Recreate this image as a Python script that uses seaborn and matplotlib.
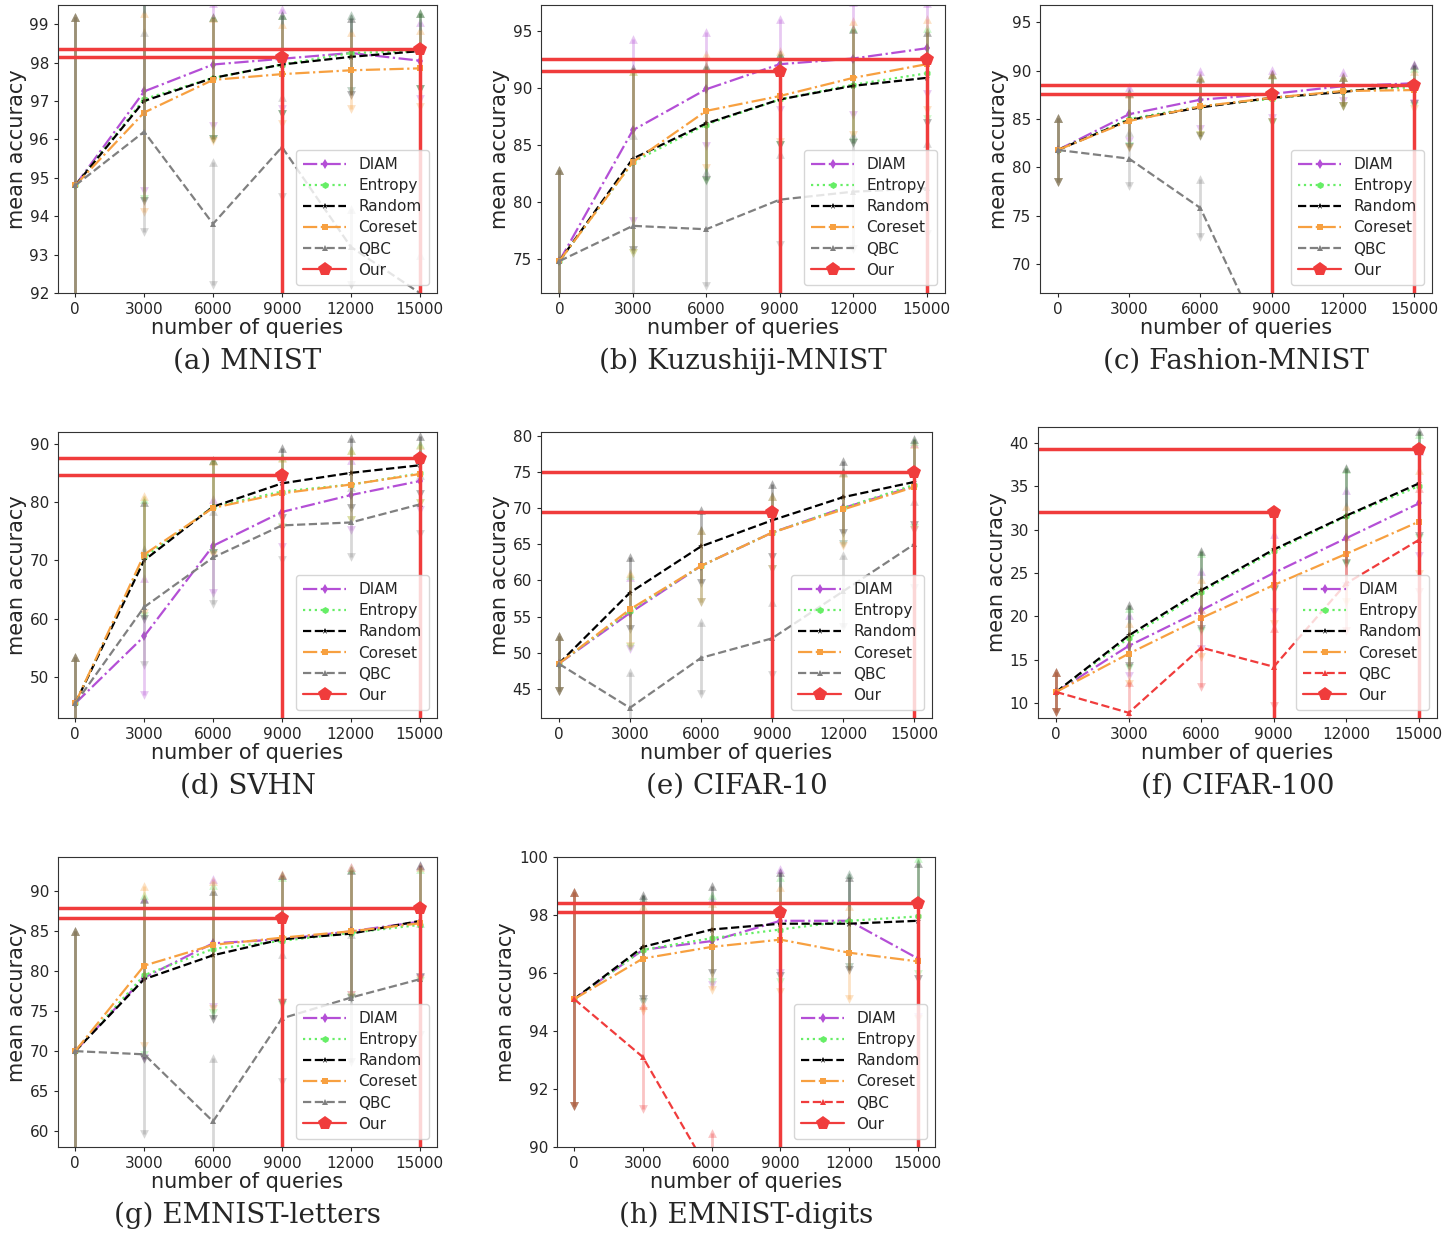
import matplotlib
matplotlib.use('Agg')
import matplotlib.pyplot as plt
import seaborn as sns
import numpy as np

sns.set_style('white')

queries = [0, 3000, 6000, 9000, 12000, 15000]
our_queries = [9000, 15000]
methods = ['DIAM', 'Entropy', 'Random', 'Coreset', 'QBC']

titles = ['(a) MNIST', '(b) Kuzushiji-MNIST', '(c) Fashion-MNIST',
          '(d) SVHN', '(e) CIFAR-10', '(f) CIFAR-100',
          '(g) EMNIST-letters', '(h) EMNIST-digits']

mnist = {
    'DIAM': [94.8, 97.25, 97.95, 98.1, 98.25, 98.05],
    'Entropy': [94.8, 97.05, 97.6, 97.95, 98.25, 98.3],
    'Random': [94.8, 97.0, 97.6, 97.95, 98.15, 98.3],
    'Coreset': [94.8, 96.7, 97.55, 97.7, 97.8, 97.85],
    'QBC': [94.8, 96.2, 93.8, 95.8, 93.2, 92.0],
}
kmnist = {
    'DIAM': [74.8, 86.3, 89.9, 92.1, 92.6, 93.5],
    'Entropy': [74.8, 83.5, 86.8, 89.0, 90.3, 91.3],
    'Random': [74.8, 83.8, 86.9, 89.0, 90.2, 90.9],
    'Coreset': [74.8, 83.5, 88.0, 89.3, 90.9, 92.1],
    'QBC': [74.8, 77.9, 77.6, 80.2, 80.9, 81.2],
}
fmnist = {
    'DIAM': [81.8, 85.5, 87.0, 87.6, 88.4, 88.7],
    'Entropy': [81.8, 85.0, 86.3, 87.1, 87.9, 88.3],
    'Random': [81.8, 84.9, 86.2, 87.2, 87.8, 88.6],
    'Coreset': [81.8, 84.8, 86.3, 87.2, 87.9, 88.0],
    'QBC': [81.8, 80.9, 75.8, 60.0, 58.0, 55.0],
}
svhn = {
    'DIAM': [45.5, 57.0, 72.5, 78.3, 81.2, 83.6],
    'Entropy': [45.5, 70.5, 79.2, 81.8, 83.0, 84.9],
    'Random': [45.5, 70.0, 79.2, 83.2, 85.0, 86.3],
    'Coreset': [45.5, 71.0, 79.0, 81.5, 83.0, 84.8],
    'QBC': [45.5, 62.0, 70.5, 76.0, 76.5, 79.6],
}
cifar10 = {
    'DIAM': [48.5, 55.5, 62.0, 66.6, 70.0, 73.0],
    'Entropy': [48.5, 55.8, 62.0, 66.6, 70.0, 73.2],
    'Random': [48.5, 58.3, 64.7, 68.3, 71.5, 73.6],
    'Coreset': [48.5, 56.0, 62.0, 66.6, 69.8, 72.9],
    'QBC': [48.5, 42.4, 49.3, 52.0, 58.5, 65.0],
}
cifar100 = {
    'DIAM': [11.3, 16.6, 20.7, 25.0, 29.0, 33.0],
    'Entropy': [11.3, 17.5, 22.8, 27.5, 31.5, 35.0],
    'Random': [11.3, 17.8, 23.0, 27.7, 31.6, 35.3],
    'Coreset': [11.3, 15.7, 19.8, 23.6, 27.2, 30.9],
    'QBC': [11.3, 8.9, 16.4, 14.2, 23.8, 28.8],
}
emnist_l = {
    'DIAM': [70.0, 79.2, 83.5, 84.0, 85.0, 86.2],
    'Entropy': [70.0, 79.5, 82.8, 83.8, 84.8, 85.8],
    'Random': [70.0, 79.0, 82.0, 84.0, 84.7, 86.3],
    'Coreset': [70.0, 80.7, 83.3, 84.2, 85.0, 86.0],
    'QBC': [70.0, 69.6, 61.2, 74.1, 76.7, 79.0],
}
emnist_d = {
    'DIAM': [95.1, 96.8, 97.1, 97.8, 97.8, 96.5],
    'Entropy': [95.1, 96.8, 97.2, 97.5, 97.8, 97.95],
    'Random': [95.1, 96.9, 97.5, 97.7, 97.7, 97.8],
    'Coreset': [95.1, 96.5, 96.9, 97.15, 96.7, 96.4],
    'QBC': [95.1, 93.1, 89.0, 88.0, 87.0, 86.0],
}
all_data = [mnist, kmnist, fmnist, svhn, cifar10, cifar100, emnist_l, emnist_d]

our_values = [[98.15, 98.35], [91.5, 92.6], [87.6, 88.5], [84.6, 87.5],
              [69.5, 75.0], [32.0, 39.3], [86.7, 87.9], [98.1, 98.4]]

# rough spread of the error arrows per panel
spreads = [[4.4, 2.6, 1.6, 1.3, 1.0, 1.0],
           [8, 8, 5, 4, 5, 4],
           [3.3, 2.8, 3, 2.5, 1.5, 2],
           [8, 10, 8, 6, 6, 5],
           [3.8, 5, 5, 5, 5, 6],
           [2.3, 3.5, 4.5, 4.5, 5.5, 6],
           [15, 10, 8, 8, 8, 7],
           [3.7, 1.8, 1.5, 1.8, 1.6, 2]]

ylims = [(92, 99.5), (72, 97.3), (67, 96.8), (43, 92), (41, 80.5),
         (8.3, 41.8), (58, 94.3), (90, 100)]
yticks = [np.arange(92, 100, 1), np.arange(75, 96, 5), np.arange(70, 96, 5),
          np.arange(50, 91, 10), np.arange(45, 81, 5), np.arange(10, 41, 5),
          np.arange(60, 91, 5), np.arange(90, 101, 2)]

styles = {
    'DIAM': dict(color='#b44fd6', linestyle='-.', marker='d'),
    'Entropy': dict(color='#66ee66', linestyle=':', marker='h'),
    'Random': dict(color='black', linestyle='--', marker='*'),
    'Coreset': dict(color='#f7a040', linestyle='-.', marker='s'),
    'QBC': dict(color='gray', linestyle='--', marker='^'),
}
red = '#f03c3c'

# axes boxes in pixels: left, top, right, bottom
boxes = [(58, 5, 437, 293), (541, 5, 945, 293), (1040, 5, 1432, 293),
         (58, 432, 437, 718), (541, 432, 932, 718), (1038, 427, 1437, 718),
         (58, 857, 437, 1147), (557, 857, 935, 1147)]
W, H = 1444, 1235

fig = plt.figure(figsize=(14.44, 12.35), dpi=100)
for i, data in enumerate(all_data):
    l, t, r, b = boxes[i]
    ax = fig.add_axes([l / W, 1 - b / H, (r - l) / W, (b - t) / H])
    for m in methods:
        st = dict(styles[m])
        if m == 'QBC' and i in (5, 7):
            st['color'] = red
        y = np.array(data[m])
        e = np.array(spreads[i])
        ax.vlines(queries, y - e, y + e, color=st['color'], alpha=0.3, lw=2)
        ax.scatter(queries, y + e, marker='^', s=40, color=st['color'],
                   alpha=0.3, linewidths=0)
        ax.scatter(queries, y - e, marker='v', s=40, color=st['color'],
                   alpha=0.3, linewidths=0)
        sns.lineplot(x=queries, y=data[m], ax=ax, color=st['color'],
                     linestyle=st['linestyle'], marker=st['marker'],
                     markersize=5, markeredgewidth=0, lw=1.6, label=m)
    y0, y1 = ylims[i]
    ax.set_xlim(-750, 15750)
    ax.set_ylim(y0, y1)
    ov = our_values[i]
    ax.hlines(ov, -750, our_queries, color=red, lw=2.5)
    ax.vlines(our_queries, y0, ov, color=red, lw=2.5)
    sns.lineplot(x=our_queries, y=ov, ax=ax, color=red, linestyle='-',
                 marker='p', markersize=10, markeredgewidth=0, lw=0,
                 label='Our')
    ax.set_xticks(queries)
    ax.set_yticks(yticks[i])
    ax.tick_params(labelsize=11, length=3, left=True, bottom=True)
    ax.set_xlabel('number of queries', fontsize=15, labelpad=1)
    ax.set_ylabel('mean accuracy', fontsize=15, labelpad=2)
    for s in ax.spines.values():
        s.set_color('#333333')
    leg = ax.legend(loc='lower right', fontsize=11, handlelength=2.8,
                    borderpad=0.5, labelspacing=0.4)
    for h in leg.legend_handles:
        h.set_linewidth(1.6)
    fig.text((l + r) / 2 / W, 1 - (b + 68) / H, titles[i], ha='center',
             va='center', fontsize=20, family='DejaVu Serif')

fig.savefig('out.png', dpi=100)
